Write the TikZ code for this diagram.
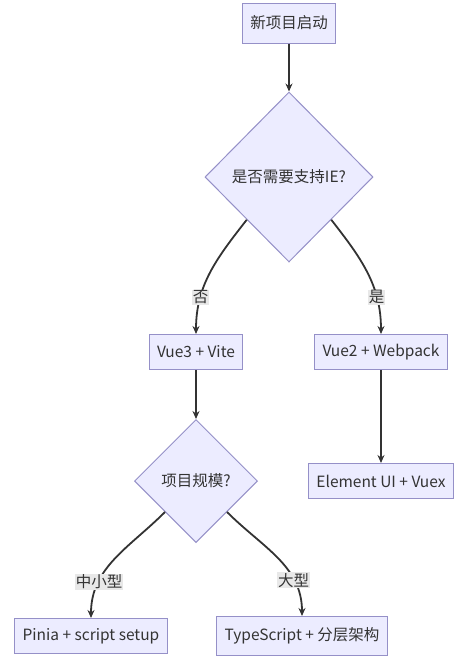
\documentclass[tikz,border=0pt]{standalone}
\usepackage{fontspec}
\setmainfont{Noto Sans CJK SC}
\usepackage{tikz}
\usetikzlibrary{shapes.geometric,arrows.meta}
\definecolor{boxfill}{HTML}{ECECFF}
\definecolor{boxline}{HTML}{9590C8}
\definecolor{edgeline}{HTML}{333333}
\definecolor{labfill}{HTML}{E8E8E8}

\begin{document}
\begin{tikzpicture}
    [x=1pt, y=-1pt,
     font=\fontsize{15.5}{18}\selectfont, text=edgeline,
     Box/.style={rectangle, draw=boxline, fill=boxfill, line width=1pt, inner xsep=8pt, minimum height=35pt},
     Choice/.style={diamond, aspect=1, draw=boxline, fill=boxfill, line width=1pt, inner sep=0pt},
     Flow/.style={draw=edgeline, line width=1.8pt, -{Stealth[length=8pt,width=7pt]}},
     Lab/.style={fill=labfill, inner sep=1pt, pos=0.72}]
	\useasboundingbox (0, 0) rectangle (474, 662);
	\node[Box, minimum height=40pt] (N-start) at (289, 23) {新项目启动};
	\node[Choice, minimum width=168pt, minimum height=170pt] (C-ie) at (289, 177) {是否需要支持IE?};
	\node[Box] (N-vue3) at (196, 352) {Vue3 + Vite};
	\node[Box] (N-vue2) at (381, 352) {Vue2 + Webpack};
	\node[Choice, minimum width=123pt, minimum height=123pt] (C-size) at (196, 481) {项目规模?};
	\node[Box] (N-elem) at (381, 481) {Element UI + Vuex};
	\node[Box] (N-pinia) at (91, 636) {Pinia + script setup};
	\node[Box, minimum height=39pt] (N-ts) at (302, 636) {TypeScript + 分层架构};
	% edges
	\draw[Flow] (N-start) -- (C-ie);
	\draw[Flow] (C-ie.south west) to[out=-128, in=90] node[Lab]{否} (N-vue3.north);
	\draw[Flow] (C-ie.south east) to[out=-52, in=90] node[Lab]{是} (N-vue2.north);
	\draw[Flow] (N-vue3) -- (C-size);
	\draw[Flow] (N-vue2) -- (N-elem);
	\draw[Flow] (C-size.south west) to[out=-135, in=90] node[Lab]{中小型} (N-pinia.north);
	\draw[Flow] (C-size.south east) to[out=-45, in=90] node[Lab]{大型} (N-ts.north);
\end{tikzpicture}
\end{document}
